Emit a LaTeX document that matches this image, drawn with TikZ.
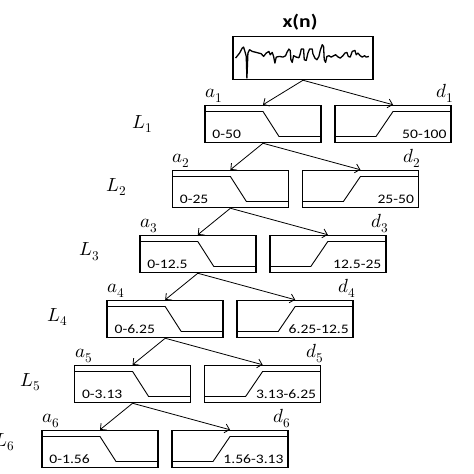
\documentclass[tikz,border=0pt]{standalone}
\usepackage{fontspec}
\usepackage{unicode-math}
\setmainfont{Carlito}
\newfontfamily\bandfont[FakeStretch=1.2]{Carlito}
\usetikzlibrary{arrows.meta}

\begin{document}
\begin{tikzpicture}[x=1pt,y=-1pt,
    box/.style={rectangle,draw,line width=1.5pt,minimum width=116pt,minimum height=37pt,inner sep=0pt},
    filt/.style={line width=0.9pt},
    lowbox/.style={box,path picture={
        \draw[filt] ([yshift=-6pt]path picture bounding box.north west) -- ++(58pt,0pt)
            -- ++(16pt,-25pt) -- ([yshift=6pt]path picture bounding box.south east);}},
    highbox/.style={box,path picture={
        \draw[filt] ([yshift=6pt]path picture bounding box.south west) -- ++(41pt,0pt)
            -- ++(17pt,25pt) -- ([yshift=-6pt]path picture bounding box.north east);}},
    lowtxt/.style={anchor=base west,xshift=8pt,yshift=5pt,inner sep=0pt,font=\bandfont\fontsize{13}{15}\selectfont},
    hightxt/.style={anchor=base east,xshift=-5pt,yshift=5pt,inner sep=0pt,font=\bandfont\fontsize{13}{15}\selectfont},
    alab/.style={anchor=south west,inner sep=1pt,yshift=1pt,font=\fontsize{19}{21}\selectfont},
    dlab/.style={anchor=south east,inner sep=1pt,xshift=3pt,yshift=1pt,font=\fontsize{19}{21}\selectfont},
    lvl/.style={font=\fontsize{19}{21}\selectfont},
    arr/.style={-{Straight Barb[length=4.5pt,width=9pt]},line width=0.8pt}
]
\useasboundingbox (0,0) rectangle (474,474);

% input signal
\node[font=\bandfont\bfseries\fontsize{18}{20}\selectfont] (xn) at (300,22) {x(n)};
\node[box,minimum width=140pt,minimum height=43pt] (sig) at (303,58) {};
\begin{scope}[shift={(sig.north west)},x=0.3333pt,y=-0.3333pt]
\draw[line width=1.3pt,line join=round] (10,67) -- (22,52) -- (30,37) -- (34,34) -- (38,47) -- (42,62)
    -- (44,127) -- (47,52) -- (52,42) -- (60,47) -- (72,50) -- (87,54) -- (94,62) -- (102,52)
    -- (110,47) -- (114,57) -- (120,50) -- (124,62) -- (128,82) -- (132,64) -- (142,62) -- (152,64)
    -- (160,60) -- (164,50) -- (170,40) -- (174,44) -- (176,72) -- (180,80) -- (184,60) -- (192,64)
    -- (200,66) -- (204,54) -- (207,40) -- (214,40) -- (216,72) -- (222,74) -- (227,52) -- (232,40)
    -- (240,40) -- (242,54) -- (248,67) -- (254,72) -- (260,62) -- (264,44) -- (270,27) -- (274,32)
    -- (276,72) -- (280,80) -- (284,62) -- (290,60) -- (297,64) -- (304,60) -- (310,57) -- (318,64)
    -- (324,67) -- (332,60) -- (338,52) -- (344,50) -- (348,62) -- (354,64) -- (360,47) -- (368,44)
    -- (372,57) -- (377,52) -- (384,60) -- (390,64) -- (397,60) -- (402,64) -- (410,62);
\end{scope}

% level 1
\node[lowbox,label={[lowtxt]south west:0-50},label={[alab]north west:$a_1$}] (a1) at (263,124) {};
\node[highbox,label={[hightxt]south east:50-100},label={[dlab]north east:$d_1$}] (d1) at (393,124) {};
\node[lvl] (L1) at (143,124) {$L_1$};

% level 2
\node[lowbox,label={[lowtxt]south west:0-25},label={[alab]north west:$a_2$}] (a2) at (230.4,189) {};
\node[highbox,label={[hightxt]south east:25-50},label={[dlab]north east:$d_2$}] (d2) at (360.4,189) {};
\node[lvl] (L2) at (117,187) {$L_2$};

% level 3
\node[lowbox,label={[lowtxt]south west:0-12.5},label={[alab]north west:$a_3$}] (a3) at (197.8,254) {};
\node[highbox,label={[hightxt]south east:12.5-25},label={[dlab]north east:$d_3$}] (d3) at (327.8,254) {};
\node[lvl] (L3) at (90,252) {$L_3$};

% level 4
\node[lowbox,label={[lowtxt]south west:0-6.25},label={[alab]north west:$a_4$}] (a4) at (165.2,319) {};
\node[highbox,label={[hightxt]south east:6.25-12.5},label={[dlab]north east:$d_4$}] (d4) at (295.2,319) {};
\node[lvl] (L4) at (58,317) {$L_4$};

% level 5
\node[lowbox,label={[lowtxt]south west:0-3.13},label={[alab]north west:$a_5$}] (a5) at (132.6,384) {};
\node[highbox,label={[hightxt]south east:3.13-6.25},label={[dlab]north east:$d_5$}] (d5) at (262.6,384) {};
\node[lvl] (L5) at (31,382) {$L_5$};

% level 6
\node[lowbox,label={[lowtxt]south west:0-1.56},label={[alab]north west:$a_6$}] (a6) at (100,449) {};
\node[highbox,label={[hightxt]south east:1.56-3.13},label={[dlab]north east:$d_6$}] (d6) at (230,449) {};
\node[lvl] (L6) at (5,442) {$L_6$};

% decomposition arrows
\draw[arr] (sig.south) -- (a1.north);
\draw[arr] (sig.south) -- (d1.north);
\draw[arr] (a1.south) -- (a2.north);
\draw[arr] (a1.south) -- (d2.north);
\draw[arr] (a2.south) -- (a3.north);
\draw[arr] (a2.south) -- (d3.north);
\draw[arr] (a3.south) -- (a4.north);
\draw[arr] (a3.south) -- (d4.north);
\draw[arr] (a4.south) -- (a5.north);
\draw[arr] (a4.south) -- (d5.north);
\draw[arr] (a5.south) -- (a6.north);
\draw[arr] (a5.south) -- (d6.north);
\end{tikzpicture}
\end{document}
